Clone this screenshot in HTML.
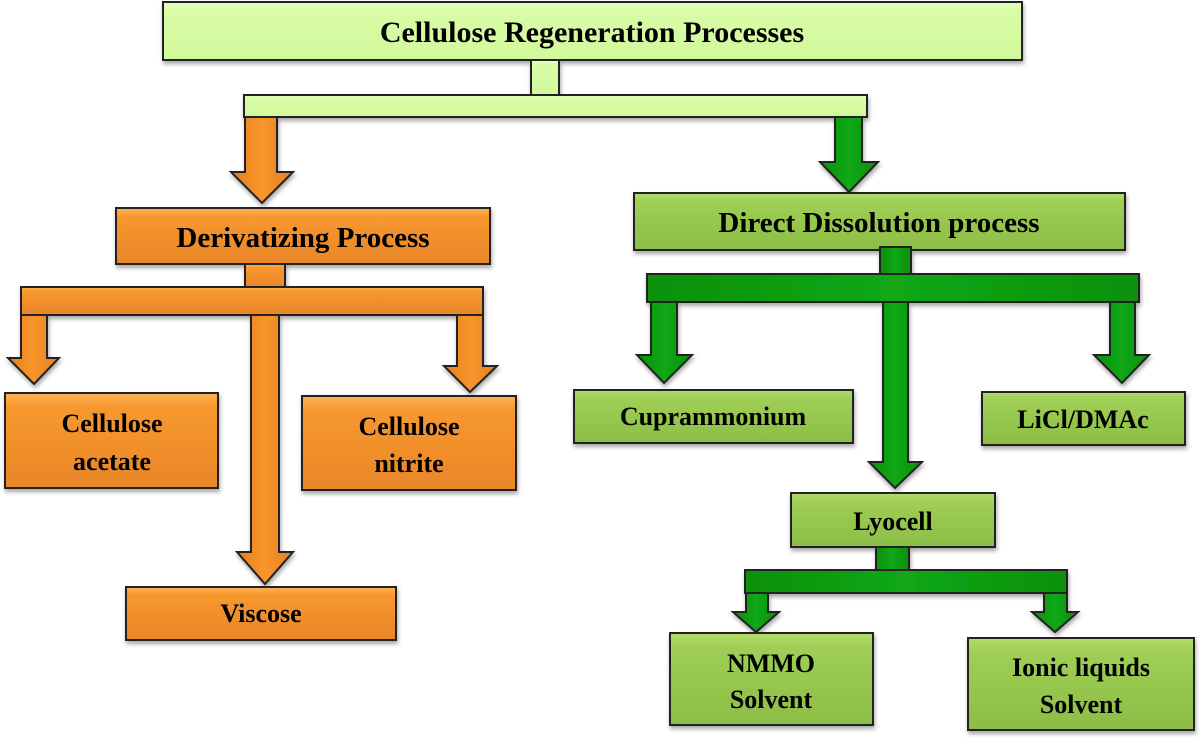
<!DOCTYPE html>
<html><head><meta charset="utf-8"><style>
html,body{margin:0;padding:0;background:#fff;}
svg{display:block;}
text{font-family:"Liberation Serif",serif;font-weight:bold;fill:#000;text-anchor:middle;}
</style></head><body>
<svg width="1200" height="740" viewBox="0 0 1200 740" xmlns="http://www.w3.org/2000/svg">
<defs>
<linearGradient id="lg" x1="0" y1="0" x2="0" y2="1"><stop offset="0" stop-color="#e6ffc4"/><stop offset="0.15" stop-color="#d8fca6"/><stop offset="1" stop-color="#d2f89c"/></linearGradient>
<linearGradient id="og" x1="0" y1="0" x2="0" y2="1"><stop offset="0" stop-color="#fbb35a"/><stop offset="0.15" stop-color="#f7982e"/><stop offset="1" stop-color="#e9862a"/></linearGradient>
<linearGradient id="oh" x1="0" y1="0" x2="1" y2="0"><stop offset="0" stop-color="#e4801f"/><stop offset="0.5" stop-color="#f8952c"/><stop offset="1" stop-color="#e4801f"/></linearGradient>
<linearGradient id="gg" x1="0" y1="0" x2="0" y2="1"><stop offset="0" stop-color="#b5dc6c"/><stop offset="0.15" stop-color="#9fcf55"/><stop offset="1" stop-color="#8cbd45"/></linearGradient>
<linearGradient id="ga" x1="0" y1="0" x2="1" y2="0"><stop offset="0" stop-color="#08900a"/><stop offset="0.5" stop-color="#12a816"/><stop offset="1" stop-color="#08900a"/></linearGradient>
<filter id="sh" x="-5%" y="-5%" width="110%" height="120%"><feDropShadow dx="1" dy="3" stdDeviation="2" flood-opacity="0.35"/></filter>
</defs>
<g stroke="#222" stroke-width="2" filter="url(#sh)">
<!-- top -->
<rect x="163" y="2" width="859" height="58" fill="url(#lg)"/>
<rect x="531" y="60" width="28" height="35" fill="url(#lg)"/>
<rect x="244" y="95" width="623" height="22" fill="url(#lg)"/>
<path d="M245 117 H277 V172 H293 L262 203 L231 172 H245 Z" fill="url(#oh)"/>
<path d="M835 117 H862 V162 H878 L849 192 L820 162 H835 Z" fill="url(#ga)"/>

<!-- derivatizing -->
<rect x="116" y="208" width="374" height="56" fill="url(#og)"/>
<rect x="245" y="264" width="40" height="23" fill="url(#og)"/>
<rect x="21" y="287" width="462" height="28" fill="url(#og)"/>
<path d="M21 315 H47 V358 H59 L34 384 L8 358 H21 Z" fill="url(#oh)"/>
<path d="M251 315 H279 V552 H293 L265 584 L237 552 H251 Z" fill="url(#oh)"/>
<path d="M457 315 H483 V366 H497 L470 392 L444 366 H457 Z" fill="url(#oh)"/>
<rect x="5" y="393" width="213" height="95" fill="url(#og)"/>
<rect x="302" y="396" width="214" height="94" fill="url(#og)"/>
<rect x="126" y="587" width="270" height="53" fill="url(#og)"/>

<!-- direct -->
<rect x="634" y="193" width="491" height="57" fill="url(#gg)"/>
<rect x="880" y="247" width="31" height="27" fill="url(#ga)"/>
<rect x="647" y="274" width="492" height="28" fill="url(#ga)"/>
<path d="M651 302 H677 V355 H692 L664 383 L637 355 H651 Z" fill="url(#ga)"/>
<path d="M883 302 H908 V462 H922 L895 488 L869 462 H883 Z" fill="url(#ga)"/>
<path d="M1110 302 H1135 V355 H1149 L1122 383 L1094 355 H1110 Z" fill="url(#ga)"/>
<rect x="574" y="390" width="279" height="53" fill="url(#gg)"/>
<rect x="982" y="392" width="203" height="53" fill="url(#gg)"/>
<rect x="791" y="493" width="204" height="54" fill="url(#gg)"/>
<rect x="876" y="547" width="33" height="23" fill="url(#ga)"/>
<rect x="745" y="570" width="322" height="23" fill="url(#ga)"/>
<path d="M746 593 H768 V612 H779 L756 632 L733 612 H746 Z" fill="url(#ga)"/>
<path d="M1044 593 H1067 V612 H1078 L1055 632 L1032 612 H1044 Z" fill="url(#ga)"/>
<rect x="670" y="633" width="203" height="92" fill="url(#gg)"/>
<rect x="968" y="638" width="226" height="92" fill="url(#gg)"/>
</g>
<text x="592" y="42" font-size="30">Cellulose Regeneration Processes</text>
<text x="303" y="247" font-size="29">Derivatizing Process</text>
<text x="879" y="232" font-size="29">Direct Dissolution process</text>
<text x="112" y="432" font-size="26">Cellulose</text>
<text x="112" y="470" font-size="26">acetate</text>
<text x="409" y="435" font-size="26">Cellulose</text>
<text x="409" y="472" font-size="26">nitrite</text>
<text x="261" y="622" font-size="26">Viscose</text>
<text x="713" y="425" font-size="26">Cuprammonium</text>
<text x="1083" y="428" font-size="26">LiCl/DMAc</text>
<text x="893" y="530" font-size="26">Lyocell</text>
<text x="771" y="672" font-size="26">NMMO</text>
<text x="771" y="708" font-size="26">Solvent</text>
<text x="1081" y="676" font-size="26">Ionic liquids</text>
<text x="1081" y="713" font-size="26">Solvent</text>
</svg>
</body></html>
